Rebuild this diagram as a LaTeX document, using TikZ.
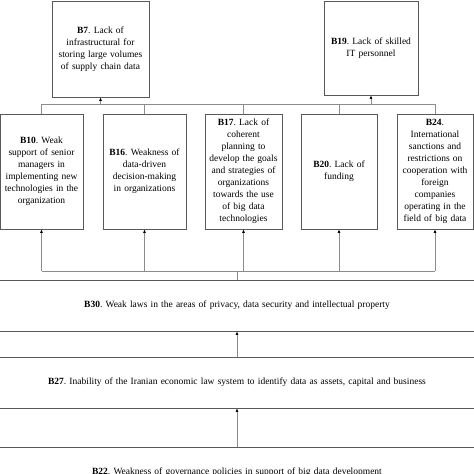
\documentclass[tikz,border=0pt]{standalone}
\usepackage{fontspec}
\setmainfont{Liberation Serif}
\usetikzlibrary{arrows.meta}

\tikzset{
	causebox/.style={draw=black!65,line width=0.8pt,fill=white,align=center,inner xsep=2pt,inner ysep=4pt,
		font=\fontsize{9.5}{12}\selectfont},
	link/.style={draw=black!45,line width=0.7pt},
	uparrow/.style={link,-{Latex[length=3.5pt,width=3pt,color=black]}}
}

\newcommand{\causebox}[4]
{
	\node[causebox,#1] at (#2) (#3) {#4}
}

\begin{document}
\frenchspacing
\begin{tikzpicture}[x=1pt,y=-1pt]
	\useasboundingbox (0,0) rectangle (474,474);
	\clip (0,0) rectangle (474,474);

	%%% Top row
	\causebox{minimum width=97pt,minimum height=96pt,text width=92pt}{100.5,49}{B7}{\textbf{B7}. Lack of\\infrastructural for\\storing large volumes\\of supply chain data};
	\causebox{minimum width=94pt,minimum height=94pt,text width=90pt}{371,48}{B19}{\textbf{B19}. Lack of skilled\\IT personnel};

	%%% Middle row
	\causebox{minimum width=83pt,minimum height=115pt,text width=79pt}{41.5,171.5}{B10}{\textbf{B10}. Weak\\support of senior\\managers in\\implementing new\\technologies in the\\organization};
	\causebox{minimum width=83pt,minimum height=115pt,text width=79pt}{144.5,171.5}{B16}{\textbf{B16}. Weakness of\\data-driven\\decision-making\\in organizations};
	\causebox{minimum width=77pt,minimum height=115pt,text width=73pt}{243.5,171.5}{B17}{\textbf{B17}. Lack of\\coherent\\planning to\\develop the goals\\and strategies of\\organizations\\towards the use\\of big data\\technologies};
	\causebox{minimum width=76pt,minimum height=115pt,text width=72pt}{339,171.5}{B20}{\textbf{B20}. Lack of\\funding};
	\causebox{minimum width=76pt,minimum height=115pt,text width=72pt}{435,171.5}{B24}{\textbf{B24}.\\International\\sanctions and\\restrictions on\\cooperation with\\foreign\\companies\\operating in the\\field of big data};

	%%% Bottom layers
	\causebox{minimum width=490pt,minimum height=51pt,text width=470pt}{237,305.5}{B30}{\textbf{B30}. Weak laws in the areas of privacy, data security and intellectual property};
	\causebox{minimum width=490pt,minimum height=51pt,text width=470pt}{237,382.5}{B27}{\textbf{B27}. Inability of the Iranian economic law system to identify data as assets, capital and business};
	\causebox{minimum width=490pt,minimum height=51pt,text width=470pt}{237,472.5}{B22}{\textbf{B22}. Weakness of governance policies in support of big data development};

	%%%%%%%%% BUS LINES
	\coordinate (topbusL) at (41.5,104);
	\coordinate (topbusR) at (435,104);
	\coordinate (lowbusL) at (41.5,271);
	\coordinate (lowbusR) at (435,271);

	\draw[link] (topbusL) -- (topbusR);
	\draw[link] (lowbusL) -- (lowbusR);

	%%% middle row up to top row
	\foreach \b in {B10,B16,B17,B20,B24}
	{
		\draw[link] (\b.north) -- (\b.north |- topbusL);
		\draw[uparrow] (\b.south |- lowbusL) -- (\b.south);
	}
	\draw[uparrow] (B7.south |- topbusL) -- (B7.south);
	\draw[uparrow] (B19.south |- topbusL) -- (B19.south);

	%%% bottom layers up
	\draw[link] (B30.north) -- (B30.north |- lowbusL);
	\draw[uparrow] (B27.north) -- (B30.south);
	\draw[uparrow] (B22.north) -- (B27.south);
\end{tikzpicture}
\end{document}
